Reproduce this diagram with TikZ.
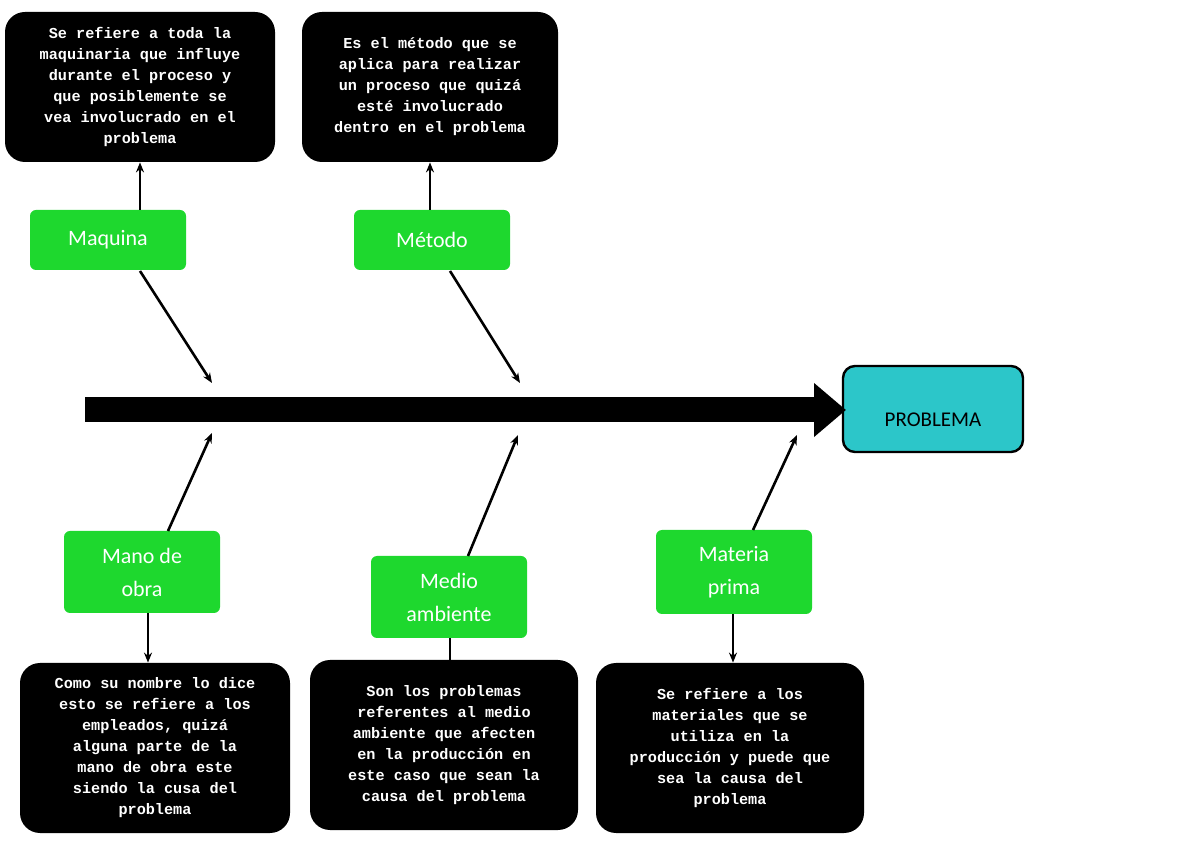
\documentclass[tikz,border=0pt]{standalone}
\usepackage{fontspec}
\setmainfont{Carlito}
\newfontfamily\descfont{Liberation Mono}
\usetikzlibrary{positioning, arrows.meta}
\definecolor{causegreen}{HTML}{1ED82E}
\definecolor{probteal}{HTML}{2CC6C9}

\begin{document}
\begin{tikzpicture}[x=0.5pt, y=-0.5pt,
	every node/.style={inner sep=0pt},
	desc/.style={rectangle, rounded corners=10pt, fill=black, text=white, font=\descfont\bfseries\fontsize{7.6}{10.5}\selectfont, align=center},
	cause/.style={rectangle, rounded corners=3pt, fill=causegreen, text=white, font=\fontsize{11}{16.5}\selectfont, align=center, minimum width=78pt},
	arr/.style={-{Stealth[length=5pt, width=4pt]}, line width=1.3pt}
	]
\useasboundingbox (0,0) rectangle (1200,849);

% top row
\node[desc, minimum width=135pt, minimum height=75pt] (dmaq) at (140,87) {Se refiere a toda la\\maquinaria que influye\\durante el proceso y\\que posiblemente se\\vea involucrado en el\\problema};
\node[desc, minimum width=128pt, minimum height=75pt] (dmet) at (430,87) {Es el método que se\\aplica para realizar\\un proceso que quizá\\esté involucrado\\dentro en el problema};
\node[cause, minimum height=30pt] (maq) at (108,240) {Maquina};
\node[cause, minimum height=30pt] (met) at (432,240) {Método};

% spine
\coordinate (tail) at (85,410);
\coordinate (head) at (846,410);
\node[rectangle, rounded corners=6pt, draw=black, line width=1.2pt, fill=probteal, minimum width=90pt, minimum height=43pt, text depth=0pt, font=\fontsize{10.5}{12}\selectfont] (prob) at (933,409) {\raisebox{-9pt}{PROBLEMA}};
\draw[line width=12.5pt, -{Triangle[length=16pt, width=26pt]}] (tail) -- (head);

% bottom row
\node[cause, minimum height=41pt] (mano) at (142,572) {Mano de\\obra};
\node[cause, minimum height=41pt] (medio) at (449,597) {Medio\\ambiente};
\node[cause, minimum height=42pt] (mat) at (734,572) {Materia\\prima};
\node[desc, minimum width=135pt, minimum height=85pt] (dmano) at (155,748) {Como su nombre lo dice\\esto se refiere a los\\empleados, quizá\\alguna parte de la\\mano de obra este\\siendo la cusa del\\problema};
\node[desc, minimum width=134pt, minimum height=85pt] (dmedio) at (444,745) {Son los problemas\\referentes al medio\\ambiente que afecten\\en la producción en\\este caso que sean la\\causa del problema};
\node[desc, minimum width=134pt, minimum height=85pt] (dmat) at (730,748) {Se refiere a los\\materiales que se\\utiliza en la\\producción y puede que\\sea la causa del\\problema};

% connectors
\coordinate (bmaq) at (212,383);
\coordinate (bmet) at (520,383);
\coordinate (bmano) at (212,433);
\coordinate (bmedio) at (518,435);
\coordinate (bmat) at (797,435);
\draw[arr] (maq.north -| dmaq.south) -- (dmaq.south);
\draw[arr] (met.north -| dmet.south) -- (dmet.south);
\draw[arr] (140,271) -- (bmaq);
\draw[arr] (450,271) -- (bmet);
\draw[arr] (168,531) -- (bmano);
\draw[arr] (468,556) -- (bmedio);
\draw[arr] (753,530) -- (bmat);
\draw[arr] (mano.south -| 148,0) -- (dmano.north -| 148,0);
\draw[line width=1.3pt] (medio.south -| 450,0) -- (dmedio.north -| 450,0);
\draw[arr] (mat.south -| 733,0) -- (dmat.north -| 733,0);
\end{tikzpicture}
\end{document}
